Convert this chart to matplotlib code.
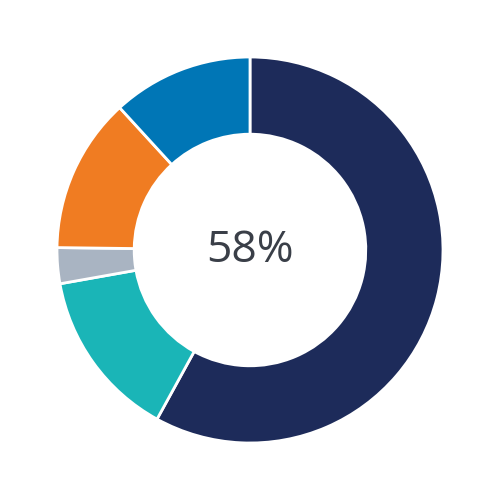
import matplotlib
matplotlib.use("Agg")
import matplotlib.pyplot as plt

labels = ["Navy", "Teal", "Grey", "Orange", "Blue"]
values = [58, 14.2, 3, 13, 11.8]
colors = ["#1d2b5a", "#1ab5b7", "#a9b4c2", "#f07c22", "#0076b6"]
center_label = "58%"

fig = plt.figure(figsize=(5, 5), dpi=100)
ax = fig.add_axes([0, 0, 1, 1])
ax.pie(values, colors=colors, startangle=90, counterclock=False,
       radius=1.0,
       wedgeprops=dict(width=0.4, edgecolor="white", linewidth=2))
ax.text(0, -0.005, center_label, ha="center", va="center", fontsize=32,
        color="#3a3f48", family=["Open Sans", "DejaVu Sans"])
lim = 250 / 193
ax.set_xlim(-lim, lim)
ax.set_ylim(-lim, lim)
ax.set_aspect("equal")
ax.axis("off")
fig.savefig("out.png", dpi=100, facecolor="white")
